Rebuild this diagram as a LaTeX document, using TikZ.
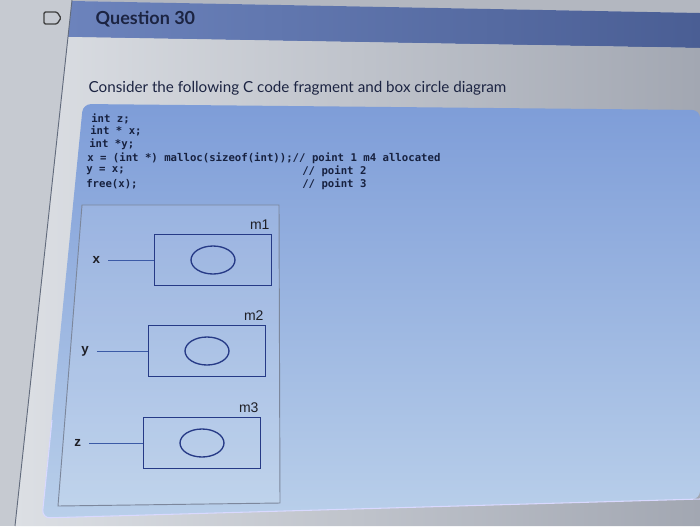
\documentclass[tikz,border=0pt]{standalone}
\usepackage{fontspec}
\setmainfont{Lato}
\setsansfont{Liberation Sans}
\setmonofont{DejaVu Sans Mono}
\usetikzlibrary{positioning, calc}

\definecolor{pagegray}{HTML}{C6CAD1}
\definecolor{topgray}{HTML}{B3B7C0}
\definecolor{headblue}{HTML}{6C83BC}
\definecolor{headdark}{HTML}{4A5E94}
\definecolor{contlight}{HTML}{DCDFE4}
\definecolor{contdark}{HTML}{A2A7B2}
\definecolor{paneltop}{HTML}{7E9DD8}
\definecolor{panelmid}{HTML}{A9C4EC}
\definecolor{panelbot}{HTML}{B9CFEA}
\definecolor{framegray}{HTML}{7C879C}
\definecolor{boxblue}{HTML}{263A86}
\definecolor{linkblue}{HTML}{3B5AA6}
\definecolor{labelink}{HTML}{1E1F26}
\definecolor{codeink}{HTML}{17213F}
\definecolor{titleink}{HTML}{1C2442}

\begin{document}
\begin{tikzpicture}[x=0.75pt, y=-0.75pt,
    membox/.style={draw=boxblue, line width=1.1pt, minimum width=88pt, minimum height=38pt, inner sep=0pt},
    memlbl/.style={font=\sffamily\fontsize{10.5}{12}\selectfont, text=labelink, inner sep=1pt},
    varlbl/.style={font=\sffamily\bfseries\fontsize{10}{12}\selectfont, text=labelink, inner sep=2pt},
    link/.style={draw=linkblue, line width=0.6pt, shorten <=4pt},
    codeline/.style={font=\ttfamily\bfseries\fontsize{8}{9.75}\selectfont, text=codeink, anchor=west, inner sep=0pt}]
    \useasboundingbox (0,0) rectangle (700,526);

    % Screen background
    \fill[pagegray] (0,0) rectangle (700,526);
    \fill[topgray] (72,0) -- (700,0) -- (700,13) -- (72,1) -- cycle;
    \shade[left color=headblue, right color=headdark] (72,1) -- (700,13) -- (700,48) -- (68,37) -- cycle;
    \shade[left color=contlight, right color=contdark] (68,37) -- (700,48) -- (700,526) -- (15,526) -- cycle;
    \draw[framegray!80!black, line width=0.7pt] (72,0) -- (15,526);

    % Flag icon
    \draw[black!75, line width=1pt, rounded corners=1pt]
      (44,12) -- (57,12) -- (61,18) -- (57,24) -- (44,24) -- cycle;

    % Question text
    \node[anchor=west, font=\bfseries\fontsize{13.5}{16}\selectfont, text=titleink] (qtitle) at (91,19) {Question 30};
    \node[anchor=west, font=\fontsize{11.4}{13}\selectfont, text=titleink] (prompt) at (84,88)
      {Consider the following C code fragment and box circle diagram};

    % Code panel
    \shade[top color=paneltop, middle color=panelmid, bottom color=panelbot, rounded corners=6pt]
      (83,104) -- (700,110) -- (700,499) -- (42,518) -- cycle;
    \draw[white!85!blue, line width=0.8pt, rounded corners=6pt] (52,420) -- (42,518) -- (700,499);

    % Code lines
    \node[codeline] (c1) at (91,119) {int z;};
    \node[codeline] (c2) at (90,131) {int * x;};
    \node[codeline] (c3) at (89,144) {int *y;};
    \node[codeline] (c4) at (87,158) {x = (int *) malloc(sizeof(int));// point 1 m4 allocated};
    \node[codeline] (c5) at (86,171) {y = x;};
    \node[codeline] (c6) at (86,184) {free(x);};
    \node[codeline] (p2) at (302,171) {// point 2};
    \node[codeline] (p3) at (302,184) {// point 3};

    % Box circle diagram frame
    \fill[white, opacity=0.12] (82,205) -- (279,205) -- (280,503) -- (58,506) -- cycle;
    \draw[framegray, line width=0.7pt] (82,205) -- (279,205) -- (280,503) -- (58,506) -- cycle;

    % Memory boxes
    \node[membox] (m1) at (213,260) {};
    \node[membox] (m2) at (207,351) {};
    \node[membox] (m3) at (202,443) {};
    \foreach \m in {m1,m2,m3} {
      \draw[boxblue, line width=1pt] (\m.center) ellipse [x radius=16.5pt, y radius=10.5pt];
      \node[memlbl, anchor=south east] (\m lbl) at ([xshift=-1pt, yshift=2pt]\m.north east) {\m};
    }

    % Pointer variables
    \node[varlbl, left=38pt of m1] (ptrx) {x};
    \node[varlbl, left=42pt of m2] (ptry) {y};
    \node[varlbl, left=44pt of m3] (ptrz) {z};
    \draw[link] (ptrx) -- (m1);
    \draw[link] (ptry) -- (m2);
    \draw[link] (ptrz) -- (m3);
\end{tikzpicture}
\end{document}
